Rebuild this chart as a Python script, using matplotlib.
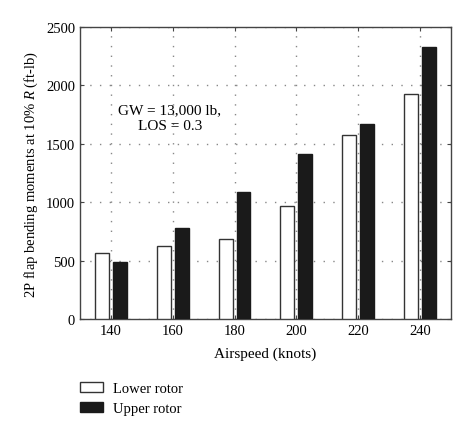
import matplotlib
matplotlib.use("Agg")
import matplotlib.pyplot as plt
import numpy as np

plt.rcParams['font.family'] = ['Liberation Serif', 'DejaVu Serif']
plt.rcParams['mathtext.fontset'] = 'custom'
plt.rcParams['mathtext.rm'] = 'Liberation Serif'
plt.rcParams['mathtext.it'] = 'Liberation Serif:italic'

airspeed = [140, 160, 180, 200, 220, 240]
lower_rotor = [563, 629, 686, 969, 1574, 1923]
upper_rotor = [486, 783, 1086, 1414, 1671, 2331]
yticks = [0, 500, 1000, 1500, 2000, 2500]

fig = plt.figure(figsize=(4.74, 4.39), dpi=100)
ax = fig.add_axes([0.169, 0.271, 0.782, 0.665])

x = np.array(airspeed, dtype=float)
w = 4.5
off = 2.9
ax.bar(x - off, lower_rotor, width=w, color='white', edgecolor='#333333', linewidth=1.0,
       label='Lower rotor', zorder=3)
ax.bar(x + off, upper_rotor, width=w, color='#1a1a1a', edgecolor='#1a1a1a', linewidth=1.0,
       label='Upper rotor', zorder=3)

ax.set_xlim(130, 250)
ax.set_ylim(0, 2500)
ax.set_xticks(airspeed)
ax.set_yticks(yticks)
ax.grid(True, color='#888888', linestyle=(0, (1, 6)), linewidth=1.0, zorder=0)
ax.tick_params(direction='in', top=True, right=True, length=3, width=0.8,
               labelsize=10.5, color='#444444')
for s in ax.spines.values():
    s.set_color('#444444')
    s.set_linewidth(1.0)

ax.set_xlabel('Airspeed (knots)', fontsize=11, labelpad=7)
ax.set_ylabel('2P flap bending moments at 10% $R$ (ft-lb)', fontsize=10.5)
ax.text(159, 1725, 'GW = 13,000 lb,\nLOS = 0.3', ha='center', va='center',
        fontsize=11, linespacing=1.3)

fig.legend(loc='upper left', bbox_to_anchor=(0.141, 0.158), frameon=False,
           fontsize=10.5, handlelength=1.6, handleheight=0.65, labelspacing=0.5,
           handletextpad=0.65)

fig.savefig('out.png', dpi=100)
